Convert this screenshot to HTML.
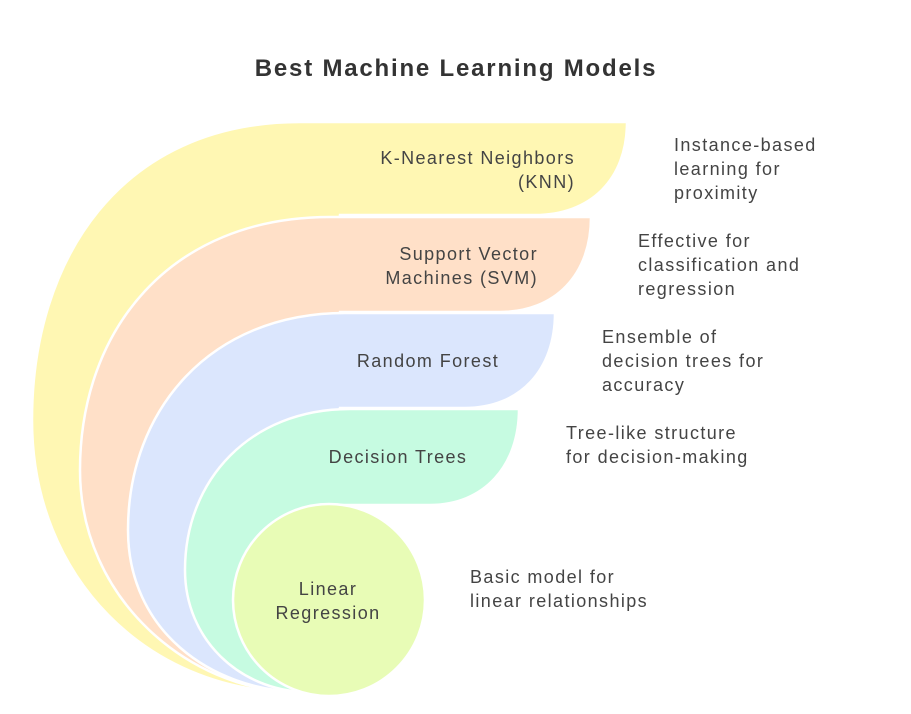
<!DOCTYPE html>
<html><head><meta charset="utf-8"><style>
body{margin:0;background:#fff;width:911px;height:709px;overflow:hidden}
svg text{font-family:"Liberation Sans",sans-serif;fill:#444;font-size:18px;letter-spacing:1.4px}
</style></head><body>
<svg width="911" height="709" viewBox="0 0 911 709">
<text x="456" y="76" text-anchor="middle" style="font-weight:bold;font-size:24px;fill:#333;letter-spacing:1.8px">Best Machine Learning Models</text>
<g stroke="#fff" stroke-width="2.5">
<path fill="#fff7b3" d="M300,122 L627,122 C627,180 590,215 535,215 L340,215 L290,692 C150,690 32,580 32,420 C32,260 120,122 300,122Z"/>
<path fill="#ffe0c8" d="M330,217 L591,217 C591,275 555,312 500,312 L340,312 L295,692 C190,690 80,600 80,470 C80,330 170,217 330,217Z"/>
<path fill="#dbe6fd" d="M345,313 L555,313 C555,370 520,408 465,408 L340,408 L300,692 C210,690 128,630 128,530 C128,410 210,313 345,313Z"/>
<path fill="#c6fbe1" d="M350,409 L519,409 C519,466 484,505 430,505 L340,505 L305,692 C240,690 185,640 185,570 C185,480 250,409 350,409Z"/>
<circle cx="329" cy="600" r="96" fill="#e8fcb6"/>
</g>
<text x="575" y="164" text-anchor="end">K-Nearest Neighbors</text>
<text x="575" y="188" text-anchor="end">(KNN)</text>
<text x="538" y="260" text-anchor="end">Support Vector</text>
<text x="538" y="284" text-anchor="end">Machines (SVM)</text>
<text x="428" y="367" text-anchor="middle">Random Forest</text>
<text x="398" y="463" text-anchor="middle">Decision Trees</text>
<text x="328" y="595" text-anchor="middle">Linear</text>
<text x="328" y="619" text-anchor="middle">Regression</text>
<text x="674" y="151">Instance-based</text>
<text x="674" y="175">learning for</text>
<text x="674" y="199">proximity</text>
<text x="638" y="247">Effective for</text>
<text x="638" y="271">classification and</text>
<text x="638" y="295">regression</text>
<text x="602" y="343">Ensemble of</text>
<text x="602" y="367">decision trees for</text>
<text x="602" y="391">accuracy</text>
<text x="566" y="439">Tree-like structure</text>
<text x="566" y="463">for decision-making</text>
<text x="470" y="583">Basic model for</text>
<text x="470" y="607">linear relationships</text>
</svg>
</body></html>
